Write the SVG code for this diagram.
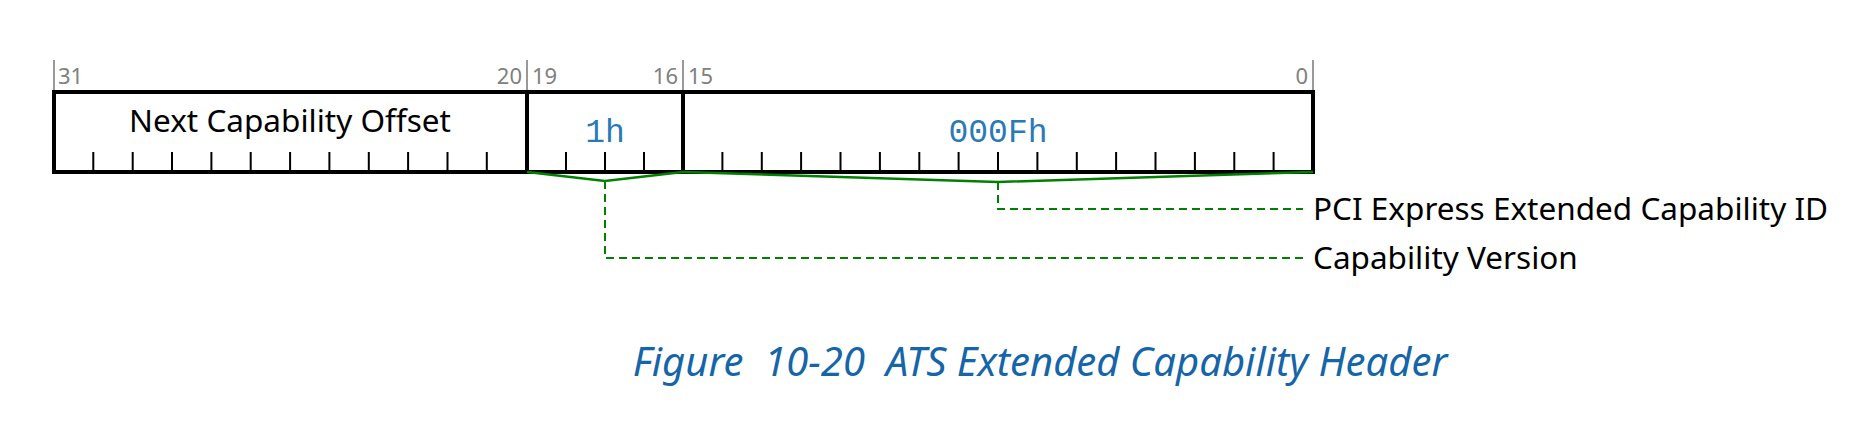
<svg xmlns="http://www.w3.org/2000/svg" width="1864" height="442" viewBox="0 0 1864 442">
<style>
.bit{font-family:"Noto Sans","Liberation Sans",sans-serif;font-size:22px;fill:#808080}
.lbl{font-family:"Noto Sans","Liberation Sans",sans-serif;font-size:31.5px;fill:#000}
.val{font-family:"Liberation Mono",monospace;font-size:33px;fill:#2a7ab8}
.box{fill:#fff;stroke:#000;stroke-width:4}
.tick{stroke:#000;stroke-width:2}
.sep{stroke:#999;stroke-width:2}
.br{fill:none;stroke:#008000;stroke-width:2.5}
.dash{fill:none;stroke:#008000;stroke-width:2;stroke-dasharray:8,5}
.cap{font-family:"Noto Sans","Liberation Sans",sans-serif;font-style:italic;font-size:40px;fill:#1565a8}
</style>
<g id="bits">
<line class="sep" x1="54" y1="60" x2="54" y2="92"/>
<line class="sep" x1="527" y1="60" x2="527" y2="92"/>
<line class="sep" x1="683" y1="60" x2="683" y2="92"/>
<line class="sep" x1="1313" y1="60" x2="1313" y2="92"/>
<text class="bit" x="58" y="84">31</text>
<text class="bit" x="522" y="84" text-anchor="end">20</text>
<text class="bit" x="532" y="84">19</text>
<text class="bit" x="678" y="84" text-anchor="end">16</text>
<text class="bit" x="688" y="84">15</text>
<text class="bit" x="1308" y="84" text-anchor="end">0</text>
</g>
<g id="next">
<rect class="box" x="54" y="92" width="473" height="80"/>
<path class="tick" d="M93.3 152V172M132.7 152V172M172 152V172M211.4 152V172M250.7 152V172M290.1 152V172M329.4 152V172M368.8 152V172M408.1 152V172M447.5 152V172M486.8 152V172"/>
<text class="lbl" x="290" y="132" text-anchor="middle">Next Capability Offset</text>
</g>
<g id="version">
<rect class="box" x="527" y="92" width="156" height="80"/>
<path class="tick" d="M566 152V172M605 152V172M644 152V172"/>
<text class="val" x="605" y="142" text-anchor="middle">1h</text>
</g>
<g id="capid">
<rect class="box" x="683" y="92" width="630" height="80"/>
<path class="tick" d="M722.4 152V172M761.8 152V172M801.1 152V172M840.5 152V172M879.9 152V172M919.3 152V172M958.6 152V172M998 152V172M1037.4 152V172M1076.8 152V172M1116.1 152V172M1155.5 152V172M1194.9 152V172M1234.3 152V172M1273.6 152V172"/>
<text class="val" x="998" y="142" text-anchor="middle">000Fh</text>
</g>
<g id="connectors">
<polyline class="br" points="527,172 605,181 683,172"/>
<polyline class="br" points="683,172 998,182 1313,172"/>
<polyline class="dash" points="998,182 998,209 1303,209"/>
<polyline class="dash" points="605,181 605,258 1303,258"/>
</g>
<g id="labels">
<text class="lbl" x="1313" y="220">PCI Express Extended Capability ID</text>
<text class="lbl" x="1313" y="269">Capability Version</text>
</g>
<text class="cap" x="1040" y="376" text-anchor="middle" xml:space="preserve">Figure  10-20  ATS Extended Capability Header</text>
</svg>
